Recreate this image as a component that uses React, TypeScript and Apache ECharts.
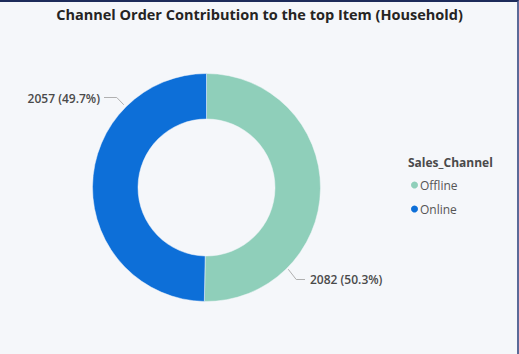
import React, { useEffect, useRef } from "react";
import * as echarts from "echarts";

const categories = ["Offline", "Online"];
const values = [2082, 2057];
const colors = ["#8fcfba", "#0d6fd8"];
const titleText = "Channel Order Contribution to the top Item (Household)";
const legendTitle = "Sales_Channel";

const CX = 206.5;
const CY = 187.5;
const R_IN = 68.5;
const R_OUT = 114;

export default function App() {
  const ref = useRef<HTMLDivElement>(null);
  useEffect(() => {
    const chart = echarts.init(ref.current!, null, { renderer: "svg" });
    const total = values.reduce((a, b) => a + b, 0);
    const d = (R_OUT + 3) * Math.SQRT1_2;
    chart.setOption({
      animation: false,
      backgroundColor: "transparent",
      title: {
        text: titleText,
        left: "center",
        top: 2,
        textStyle: {
          fontFamily: "Open Sans",
          fontWeight: "bold",
          fontSize: 14.5,
          color: "#252423",
        },
      },
      graphic: [
        {
          type: "text",
          left: 408,
          top: 156,
          style: {
            text: legendTitle,
            fontFamily: "Open Sans",
            fontWeight: "bold",
            fontSize: 12,
            fill: "#4a4a4a",
          },
        },
      ],
      legend: {
        orient: "vertical",
        left: 409,
        top: 179,
        padding: 0,
        icon: "circle",
        itemWidth: 9,
        itemHeight: 9,
        itemGap: 12,
        data: categories,
        textStyle: {
          fontFamily: "Open Sans",
          fontSize: 12,
          color: "#555555",
          padding: [0, 0, 0, -4],
        },
      },
      series: [
        {
          type: "pie",
          center: [CX, CY],
          radius: [R_IN, R_OUT],
          startAngle: 90,
          clockwise: true,
          avoidLabelOverlap: false,
          itemStyle: { borderColor: "#f5f7fa", borderWidth: 0.5 },
          label: {
            show: true,
            formatter: (p: any) =>
              `${p.value} (${((p.value / total) * 100).toFixed(1)}%)`,
            fontFamily: "Open Sans",
            fontSize: 12,
            fontWeight: 600,
            color: "#4a4a4a",
          },
          labelLine: {
            show: true,
            lineStyle: { color: "#b0b0b0", width: 1 },
          },
          labelLayout: (p: any) =>
            p.dataIndex === 1
              ? {
                  x: 100,
                  y: 98,
                  align: "right",
                  verticalAlign: "middle",
                  labelLinePoints: [
                    [CX - d, CY - d],
                    [CX - d - 7, 97.5],
                    [104, 97.5],
                  ],
                }
              : {
                  x: 310,
                  y: 279,
                  align: "left",
                  verticalAlign: "middle",
                  labelLinePoints: [
                    [CX + d - 1, CY + d - 1],
                    [CX + d + 7, 279.5],
                    [305, 279.5],
                  ],
                },
          data: categories.map((c, i) => ({
            name: c,
            value: values[i],
            itemStyle: { color: colors[i] },
          })),
        },
      ],
    });
    return () => chart.dispose();
  }, []);
  return (
    <div
      style={{
        position: "fixed",
        left: 0,
        top: 0,
        width: 519,
        height: 354,
        boxSizing: "border-box",
        background: "#f5f7fa",
        borderTop: "2px solid #1d2b5a",
        borderRight: "2px solid #5b6a98",
      }}
    >
      <div ref={ref} style={{ position: "absolute", left: 0, top: -2, width: 519, height: 354 }} />
    </div>
  );
}
